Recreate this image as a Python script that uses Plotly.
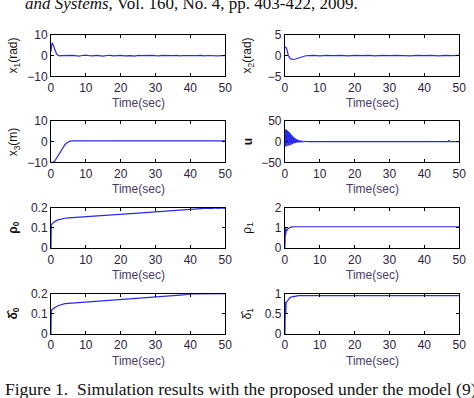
import plotly.graph_objects as go

# ---------------- data ----------------
x_ticks = [0, 10, 20, 30, 40, 50]

x1_t = [0, 0.1, 0.3, 0.5, 0.8, 1.2, 1.6, 2.0, 2.5, 3, 4, 5, 6, 7, 8, 9, 10, 11, 12, 13, 14, 15, 16, 17, 18, 19, 20,
        21, 22, 23, 24, 25, 26, 27, 28, 29, 30, 31, 32, 33, 34, 35, 36, 37, 38, 39, 40, 41, 42, 43, 44, 45, 46, 47, 48, 49, 50]
x1_v = [2, 4, 6.2, 5.8, 4.2, 2.2, 0.9, 0.2, -0.1, 0.0, 0.1, -0.1, 0.2, 0.0, -0.2, 0.1, 0.3, 0.0, -0.1, 0.2, 0.0, -0.2, 0.1, 0.2, -0.1, 0.0,
        0.2, -0.1, 0.1, 0.0, -0.2, 0.2, 0.0, 0.1, -0.1, 0.2, 0.0, -0.1, 0.2, 0.1, -0.2, 0.0, 0.2, -0.1, 0.1, 0.0, 0.2, -0.1, 0.0, 0.2, -0.1, 0.1, 0.0, 0.2, -0.1, 0.1, 0.0]

x2_t = [0, 0.3, 0.6, 1.0, 1.5, 2.0, 2.5, 3.0, 4.0, 5.0, 6, 8, 10, 12, 14, 16, 18, 20, 22, 24, 26, 28, 30, 32, 34, 36, 38, 40, 42, 44, 46, 48, 50]
x2_v = [2.0, 2.0, 1.4, 0.0, -0.7, -0.9, -0.9, -0.8, -0.5, -0.2, 0.0, 0.1, -0.05, 0.1, 0.0, 0.1, -0.05, 0.1, 0.0, 0.1, -0.05, 0.1, 0.0, 0.1,
        0.05, -0.05, 0.1, 0.0, 0.1, -0.05, 0.1, 0.0, 0.1]

x3_t = [0, 0.5, 1.0, 1.5, 2.0, 2.5, 3.0, 3.5, 4.0, 4.5, 5.0, 5.5, 6.0, 7, 10, 20, 30, 40, 50]
x3_v = [-10, -10, -9.6, -8.3, -6.8, -5.3, -3.9, -2.6, -1.5, -0.7, -0.1, 0.2, 0.3, 0.3, 0.3, 0.3, 0.3, 0.3, 0.3]

u_t = [0.0, 0.1, 0.2, 0.3, 0.4, 0.5, 0.6, 0.7, 0.8, 0.9, 1.0, 1.1, 1.2, 1.3, 1.4, 1.5, 1.6, 1.7, 1.8, 1.9,
       2.0, 2.1, 2.2, 2.3, 2.4, 2.5, 2.6, 2.7, 2.8, 2.9, 3.0, 3.1, 3.2, 3.3, 3.4, 3.5, 3.6, 3.7, 3.8, 3.9,
       4.0, 4.1, 4.2, 4.3, 4.4, 4.5, 4.6, 4.7, 4.8, 4.9, 5.0, 5.2, 5.4, 5.6, 5.8, 6.0, 7, 10, 13, 13.2, 13.4,
       17, 17.2, 17.4, 20, 30, 40, 46.8, 47, 47.2, 50]
u_v = [0, 29, -12, 28, -12, 27, -11, 26, -11, 24, -10, 23, -10, 21, -9, 19, -8, 17, -8, 15,
       -7, 13, -6, 11, -5, 9.5, -4.5, 8, -4, 6.5, -3.5, 5.5, -3, 4.5, -2.5, 3.5, -2, 3, -1.8, 2.5,
       -1.5, 2, -1.2, 1.6, -1, 1.3, -0.8, 1.1, -0.6, 0.9, -0.5, 0.6, -0.4, 0.4, -0.3, 0.2, 0.1, 0.0, 0.0, 1.5, 0.0,
       0.0, 1.5, 0.0, 0.0, 0.0, 0.0, 0.0, 3.0, 0.0, 0.0]

rho0_t = [0, 0.02, 0.1, 0.3, 0.6, 1, 2, 3, 4, 5, 10, 15, 20, 25, 30, 35, 40, 44, 45, 46, 47, 48, 49, 50]
rho0_v = [0, 0.09, 0.115, 0.12, 0.125, 0.13, 0.14, 0.145, 0.148, 0.15, 0.155, 0.161, 0.167, 0.173, 0.179, 0.185, 0.19, 0.194,
          0.198, 0.195, 0.199, 0.196, 0.199, 0.197]

rho1_t = [0, 0.05, 0.15, 0.25, 0.35, 0.5, 0.8, 1.2, 1.6, 2.0, 3.0, 50]
rho1_v = [0, 0.6, 1.0, 0.65, 0.95, 0.85, 0.95, 1.0, 1.03, 1.05, 1.06, 1.06]

d0_t = [0, 0.02, 0.1, 0.3, 0.6, 1, 2, 3, 4, 5, 10, 15, 20, 25, 30, 35, 38, 40, 42, 45, 50]
d0_v = [0, 0.09, 0.115, 0.12, 0.125, 0.13, 0.14, 0.146, 0.15, 0.152, 0.158, 0.164, 0.17, 0.176, 0.182, 0.188, 0.193, 0.198,
        0.198, 0.199, 0.199]

d1_t = [0, 0.05, 0.15, 0.25, 0.35, 0.5, 1.0, 1.5, 2.0, 3.0, 4.0, 50]
d1_v = [0, 0.5, 0.8, 0.5, 0.78, 0.8, 0.86, 0.9, 0.92, 0.94, 0.95, 0.95]

panels = [
    # (t, v, y range, y ticks, y label)
    (x1_t, x1_v, [-10, 10], [-10, 0, 10], "x<sub>1</sub>(rad)"),
    (x2_t, x2_v, [-5, 5], [-5, 0, 5], "x<sub>2</sub>(rad)"),
    (x3_t, x3_v, [-10, 10], [-10, 0, 10], "x<sub>3</sub>(m)"),
    (u_t, u_v, [-50, 50], [-50, 0, 50], "<b>u</b>"),
    (rho0_t, rho0_v, [0, 0.2], [0, 0.1, 0.2], "<b>ρ<sub>0</sub></b>"),
    (rho1_t, rho1_v, [0, 2], [0, 1, 2], "ρ<sub>1</sub>"),
    (d0_t, d0_v, [0, 0.2], [0, 0.1, 0.2], "<b>δ̂<sub>0</sub></b>"),
    (d1_t, d1_v, [0, 1], [0, 0.5, 1], "δ̂<sub>1</sub>"),
]

# ---------------- layout ----------------
W, H = 474, 398
col_px = [(49, 227), (288, 466)]
row_px = [(29, 72), (118, 161), (208, 250), (297, 339)]

FONT = "Liberation Sans, Arial, sans-serif"
TXT = "#2e2240"
LINE = "#2a2aee"

fig = go.Figure()
annotations = []
layout = {}

for i, (t, v, yr, yt, ylab) in enumerate(panels):
    r, c = divmod(i, 2)
    n = i + 1
    xa = "xaxis" if n == 1 else f"xaxis{n}"
    ya = "yaxis" if n == 1 else f"yaxis{n}"
    xr = "x" if n == 1 else f"x{n}"
    yrn = "y" if n == 1 else f"y{n}"
    x0, x1p = col_px[c]
    y0, y1p = row_px[r]
    fig.add_trace(go.Scatter(x=t, y=v, mode="lines", line=dict(color=LINE, width=1.2),
                             xaxis=xr, yaxis=yrn, showlegend=False, hoverinfo="skip"))
    common = dict(showgrid=False, zeroline=False, showline=True, linecolor="black", linewidth=1,
                  mirror="ticks", ticks="inside", ticklen=3, tickcolor="black",
                  tickfont=dict(family=FONT, size=12, color=TXT))
    layout[xa] = dict(domain=[x0 / W, x1p / W], range=[0, 50], tickvals=x_ticks, anchor=yrn, **common)
    layout[ya] = dict(domain=[1 - y1p / H, 1 - y0 / H], range=yr, tickvals=yt, anchor=xr, **common)
    # x title
    annotations.append(dict(text="Time(sec)", x=(x0 + x1p) / 2 / W, y=1 - (y1p + 28) / H,
                            xref="paper", yref="paper", showarrow=False, xanchor="center", yanchor="middle",
                            font=dict(family=FONT, size=12, color="#4a3b68")))
    # y title
    annotations.append(dict(text=ylab, x=(x0 - 38) / W, y=1 - (y0 + y1p) / 2 / H, textangle=-90,
                            xref="paper", yref="paper", showarrow=False, xanchor="center", yanchor="middle",
                            font=dict(family=FONT, size=12, color="#111111")))

# captions (clipped text from the page)
annotations.append(dict(text="<i>and Systems</i>, Vol. 160, No. 4, pp. 403-422, 2009.",
                        x=20 / W, y=1 - 8 / H, xref="paper", yref="paper", showarrow=False,
                        xanchor="left", yanchor="bottom",
                        font=dict(family="Liberation Serif, Times New Roman, serif", size=17, color="#111111")))
annotations.append(dict(text="Figure 1.  Simulation results with the proposed under the model (9)",
                        x=0 / W, y=1 - 384 / H, xref="paper", yref="paper", showarrow=False,
                        xanchor="left", yanchor="top",
                        font=dict(family="Liberation Serif, Times New Roman, serif", size=17.5, color="#111111")))

fig.update_layout(width=W, height=H, margin=dict(l=0, r=0, t=0, b=0),
                  paper_bgcolor="white", plot_bgcolor="white",
                  annotations=annotations, **layout)

fig.write_html("out.html", config={"displayModeBar": False},
               post_script="document.body.style.margin='0';document.body.style.overflow='hidden';")
